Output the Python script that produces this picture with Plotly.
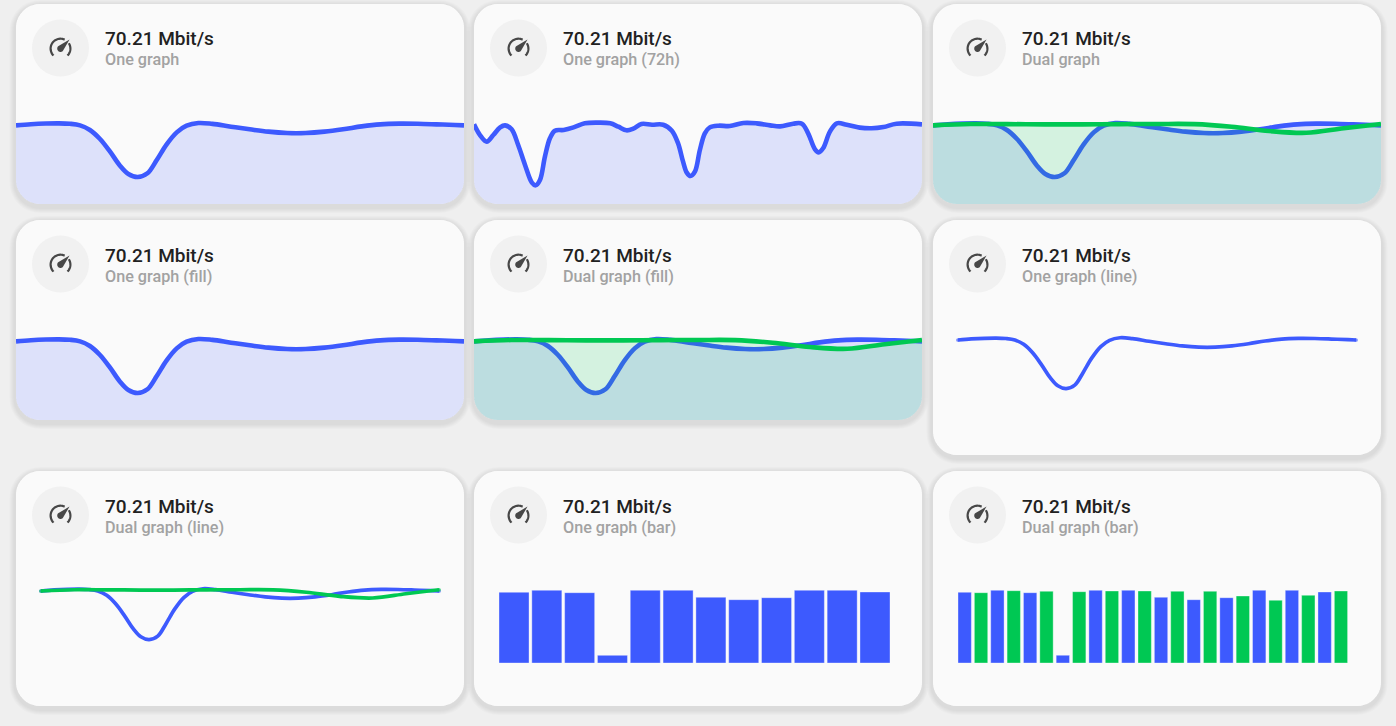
import math
import plotly.graph_objects as go

W, H = 1396, 726
BLUE, GREEN = "#3D5AFE", "#00C853"
BLUE_FILL, GREEN_FILL = "rgba(61,90,254,0.15)", "rgba(0,200,83,0.15)"
PAGE, CARD = "#efefef", "#fafafa"

VALUE_TEXT = "70.21 Mbit/s"
NAMES = ["One graph", "One graph (72h)", "Dual graph", "One graph (fill)", "Dual graph (fill)",
         "One graph (line)", "Dual graph (line)", "One graph (bar)", "Dual graph (bar)"]

hours_a = [0, 0.8, 1.6, 2.3, 2.89, 3.43, 3.96, 4.5, 5.04, 5.57, 6.02, 6.52, 7.04, 7.54, 8.07, 8.61, 9.14, 9.77,
           10.52, 11.52, 12.52, 13.52, 14.52, 15.52, 16.52, 17.52, 18.52, 19.52, 20.52, 21.52, 22.52, 23.52, 24]
speed_a = [69.9, 70.9, 71.5, 71.7, 71.3, 69.9, 65.8, 57.8, 46.5, 34.1, 26.7, 24, 27.3, 39.1, 53, 63.7, 69.6, 72,
           71.2, 68.7, 66.4, 64.3, 63.1, 63.1, 64.3, 66.4, 69, 70.8, 71.4, 71.3, 70.8, 70.2, 69.9]
hours_b = [0, 2, 4, 6, 8, 10, 12, 14, 16, 18, 20, 22, 24]
speed_b = [69.9, 71.1, 71, 70.8, 70.8, 71, 71.1, 71, 68.7, 64.9, 63.3, 67.3, 71.1]
hours_72 = [0, 0.96, 2.04, 3.1, 4.2, 5, 6.05, 7.1, 8.2, 9.3, 9.9, 10.6, 11.4, 12.2, 13, 14.4, 16, 17.8, 20, 21.9,
            23.2, 24.5, 25.6, 26.9, 28.6, 30.4, 31.8, 32.8, 33.6, 34.2, 34.8, 35.5, 36.3, 37.1, 37.9, 39.3, 41.1,
            43.3, 45.4, 47.6, 49.2, 51.3, 52.7, 53.7, 54.8, 55.4, 56.1, 57.2, 58.3, 59.9, 62, 63.9, 65.8, 67.9, 72]
speed_72 = [70.8, 61.3, 55.4, 61.3, 68.1, 69.9, 66.4, 52.4, 34.7, 19, 16.6, 21.3, 42.1, 58.4, 65.2, 65.8, 68.1,
            71.7, 72.3, 71.7, 68.7, 65.5, 67, 71.1, 70.5, 70.5, 65.2, 53.9, 37.6, 27.9, 24.9, 28.7, 48, 62.8, 68.1,
            69.6, 69.3, 72, 71.7, 69.9, 69, 71.4, 71.4, 62.8, 48.6, 45.9, 49.5, 64.3, 71.7, 70.5, 67.9, 67.3, 68.4,
            71.4, 70.8]
bar_slots = list(range(12))
bars_a = [70.7, 72.7, 70.3, 7.7, 72.7, 72.7, 65.7, 63.3, 65.3, 72.7, 72.7, 71]
bars_b = [70.3, 72.3, 71.7, 71.3, 72, 72, 71.7, 71.7, 67, 62.7, 67.7, 72]

CARDS = [(16, 4, 464, 204), (474, 4, 922, 204), (933, 4, 1381, 204),
         (16, 220, 464, 420), (474, 220, 922, 420), (933, 220, 1381, 455),
         (16, 471, 464, 706), (474, 471, 922, 706), (933, 471, 1381, 706)]
RADIUS = 24


def fx(x):
    return f"{x / W:.5f}"


def fy(y):
    return f"{1 - y / H:.5f}"


def path(points, close=True):
    s = "M" + " L".join(f"{fx(x)},{fy(y)}" for x, y in points)
    return s + (" Z" if close else "")


def arc(cx, cy, r, a0, a1, n=10):
    return [(cx + r * math.cos(math.radians(a0 + (a1 - a0) * i / n)),
             cy + r * math.sin(math.radians(a0 + (a1 - a0) * i / n))) for i in range(n + 1)]


def rrect(x0, y0, x1, y1, r):
    return (arc(x0 + r, y0 + r, r, 180, 270) + arc(x1 - r, y0 + r, r, 270, 360)
            + arc(x1 - r, y1 - r, r, 0, 90) + arc(x0 + r, y1 - r, r, 90, 180))


def shape(d, fill, layer="below", line=None, width=0):
    return dict(type="path", xref="paper", yref="paper", path=d, fillcolor=fill, layer=layer,
                line=dict(color=line or "rgba(0,0,0,0)", width=width))


shapes, notes = [], []
ICON_SCALE = 1.1
for i, (x0, y0, x1, y1) in enumerate(CARDS):
    card = rrect(x0, y0, x1, y1, RADIUS)
    shapes.append(shape(path(card), CARD))
    cx, cy = x0 + 44.5, y0 + 44
    shapes.append(shape(path(arc(cx, cy, 28.5, 0, 360, 48)), "#f1f1f1"))
    ux, uy = cx, cy + 1 * ICON_SCALE - 0.5
    iconc = "#474747"
    r = 9 * ICON_SCALE
    shapes.append(shape(path(arc(ux, uy, r, 135, 295, 24), close=False), "rgba(0,0,0,0)", line=iconc, width=2.2))
    shapes.append(shape(path(arc(ux, uy, r, 327, 405, 12), close=False), "rgba(0,0,0,0)", line=iconc, width=2.2))
    tip = (ux + 8.21 * ICON_SCALE, uy - 8.23 * ICON_SCALE)
    shapes.append(shape(path([tip] + arc(ux, uy, 3 * ICON_SCALE, -45 + 90, -45 + 270, 14)), iconc))
    if i < 5:
        m1 = [(x0 - 0.5, y1 - RADIUS), (x0 - 0.5, y1 + 0.5), (x0 + RADIUS, y1 + 0.5)] + arc(x0 + RADIUS, y1 - RADIUS, RADIUS, 90, 180)
        m2 = [(x1 + 0.5, y1 - RADIUS), (x1 + 0.5, y1 + 0.5), (x1 - RADIUS, y1 + 0.5)] + arc(x1 - RADIUS, y1 - RADIUS, RADIUS, 90, 0)
        shapes.append(shape(path(m1), PAGE, layer="above"))
        shapes.append(shape(path(m2), PAGE, layer="above"))
    for grow in (2.5, 3.5, 4.5, 5.5, 6.5):
        outer = rrect(x0 - grow, y0 - grow + 2.5, x1 + grow, y1 + grow + 2.5, RADIUS + grow)
        shapes.append(shape(path(outer) + " " + path(card), "rgba(0,0,0,0.014)", layer="above"))
    text_dy = 0 if i < 3 else 1
    notes.append(dict(text=VALUE_TEXT, xref="paper", yref="paper", x=(x0 + 87) / W, y=1 - (y0 + 34.5 + text_dy) / H,
                      xanchor="left", yanchor="middle", showarrow=False,
                      font=dict(family="Roboto", size=19, weight=500, color="#212121")))
    notes.append(dict(text=NAMES[i], xref="paper", yref="paper", x=(x0 + 87) / W, y=1 - (y0 + 55.5 + text_dy) / H,
                      xanchor="left", yanchor="middle", showarrow=False,
                      font=dict(family="Roboto", size=16.2, weight=500, color="#a2a2a2")))

fig = go.Figure()
layout_axes = {}


def axes(n, px0, px1, base_y, per_unit, xrange, top=80):
    sfx = "" if n == 1 else str(n)
    layout_axes[f"xaxis{sfx}"] = dict(domain=[px0 / W, px1 / W], range=xrange, visible=False, fixedrange=True,
                                      anchor=f"y{sfx}")
    layout_axes[f"yaxis{sfx}"] = dict(domain=[1 - base_y / H, 1 - (base_y - per_unit * top) / H], range=[0, top],
                                      visible=False, fixedrange=True, anchor=f"x{sfx}")
    return f"x{sfx}", f"y{sfx}"


def area(xa, ya, xs, ys, color, fill, name):
    fig.add_trace(go.Scatter(x=xs, y=ys, mode="lines", name=name, xaxis=xa, yaxis=ya, fill="tozeroy",
                             fillcolor=fill, line=dict(color=color, width=4.6, shape="spline", smoothing=1.0),
                             showlegend=False, hoverinfo="skip"))


def thin(xa, ya, xs, ys, color, name):
    sizes = [3.7] + [0] * (len(xs) - 2) + [3.7]
    fig.add_trace(go.Scatter(x=xs, y=ys, mode="lines+markers", name=name, xaxis=xa, yaxis=ya, cliponaxis=False,
                             marker=dict(size=sizes, color=color, line=dict(width=0)),
                             line=dict(color=color, width=3.7, shape="spline", smoothing=1.0),
                             showlegend=False, hoverinfo="skip"))


K = 1.125
xa, ya = axes(1, 16, 464, 204, K, [0, 24])
area(xa, ya, hours_a, speed_a, BLUE, BLUE_FILL, "Download")
xa, ya = axes(2, 474, 922, 204, K, [0, 72])
area(xa, ya, hours_72, speed_72, BLUE, BLUE_FILL, "Download")
xa, ya = axes(3, 933, 1381, 204, K, [0, 24])
area(xa, ya, hours_a, speed_a, BLUE, BLUE_FILL, "Download")
area(xa, ya, hours_b, speed_b, GREEN, GREEN_FILL, "Upload")
xa, ya = axes(4, 16, 464, 420, K, [0, 24])
area(xa, ya, hours_a, speed_a, BLUE, BLUE_FILL, "Download")
xa, ya = axes(5, 474, 922, 420, K, [0, 24])
area(xa, ya, hours_a, speed_a, BLUE, BLUE_FILL, "Download")
area(xa, ya, hours_b, speed_b, GREEN, GREEN_FILL, "Upload")
xa, ya = axes(6, 958, 1356, 414.1, 1.06, [0, 24])
thin(xa, ya, hours_a, speed_a, BLUE, "Download")
xa, ya = axes(7, 41, 439, 665.1, 1.06, [0, 24])
thin(xa, ya, hours_a, speed_a, BLUE, "Download")
thin(xa, ya, hours_b, speed_b, GREEN, "Upload")

EDGE = "rgba(255,255,255,0.35)"
xa, ya = axes(8, 499, 890, 663, 1.0, [-0.4575, 11.4575])
fig.add_trace(go.Bar(x=bar_slots, y=bars_a, xaxis=xa, yaxis=ya, width=0.915, offset=-0.4575, name="Download",
                     marker=dict(color=BLUE, line=dict(color=EDGE, width=1)), showlegend=False, hoverinfo="skip"))
xa, ya = axes(9, 958, 1347.7, 663, 1.0, [-0.454, 11.454])
fig.add_trace(go.Bar(x=bar_slots, y=bars_a, xaxis=xa, yaxis=ya, width=0.408, offset=-0.454, name="Download",
                     marker=dict(color=BLUE, line=dict(color=EDGE, width=1)), showlegend=False, hoverinfo="skip"))
fig.add_trace(go.Bar(x=bar_slots, y=bars_b, xaxis=xa, yaxis=ya, width=0.408, offset=0.046, name="Upload",
                     marker=dict(color=GREEN, line=dict(color=EDGE, width=1)), showlegend=False, hoverinfo="skip"))

fig.update_layout(width=W, height=H, margin=dict(l=0, r=0, t=0, b=0, pad=0), paper_bgcolor=PAGE,
                  plot_bgcolor="rgba(0,0,0,0)", showlegend=False, barmode="overlay", shapes=shapes,
                  annotations=notes, font=dict(family="Roboto"), **layout_axes)

fig.write_html("out.html", config=dict(displayModeBar=False),
               post_script="document.body.style.margin='0';document.body.style.background='#efefef';")
